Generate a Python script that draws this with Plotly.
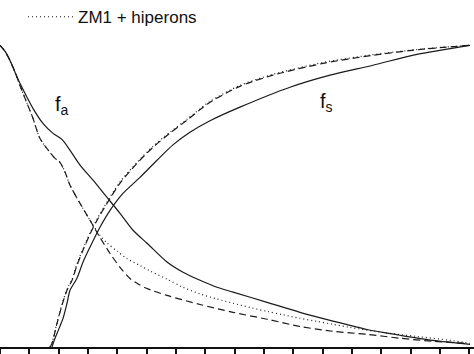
import plotly.graph_objects as go

# ---- data (x in axis units: 1 unit per major tick; y = fraction) ----
x_fa_solid = [0.0, 0.043, 0.085, 0.128, 0.170, 0.230, 0.281, 0.366, 0.452, 0.528, 0.597, 0.682, 0.793,
              0.912, 1.023, 1.134, 1.253, 1.423, 1.560, 1.705, 1.849, 1.986, 2.276, 2.557, 2.838, 3.128,
              3.409, 3.690, 4.006]
y_fa_solid = [1.0, 0.980, 0.950, 0.911, 0.874, 0.828, 0.791, 0.741, 0.708, 0.688, 0.652, 0.603, 0.553,
              0.496, 0.443, 0.387, 0.344, 0.282, 0.248, 0.221, 0.198, 0.182, 0.148, 0.115, 0.086, 0.058,
              0.039, 0.022, 0.009]

x_fa_dash = [0.0, 0.043, 0.085, 0.128, 0.170, 0.230, 0.281, 0.341, 0.426, 0.469, 0.511, 0.554, 0.597,
             0.682, 0.767, 0.852, 0.938, 1.023, 1.108, 1.168, 1.253, 1.423, 1.705, 1.986, 2.276, 2.557,
             2.838, 3.128, 3.409, 3.690, 3.980]
y_fa_dash = [1.0, 0.980, 0.950, 0.911, 0.867, 0.808, 0.758, 0.691, 0.645, 0.625, 0.612, 0.580, 0.536,
             0.476, 0.420, 0.363, 0.310, 0.264, 0.227, 0.211, 0.194, 0.171, 0.141, 0.115, 0.092, 0.068,
             0.052, 0.042, 0.029, 0.019, 0.012]

x_fa_dot = [0.0, 0.043, 0.085, 0.128, 0.170, 0.230, 0.281, 0.341, 0.426, 0.469, 0.511, 0.554, 0.597,
            0.682, 0.767, 0.852, 0.912, 0.997, 1.082, 1.193, 1.278, 1.423, 1.560, 1.705, 1.849, 1.986,
            2.131, 2.276, 2.412, 2.557, 2.702, 2.838, 2.983, 3.264, 3.554, 3.835, 4.006]
y_fa_dot = [1.0, 0.980, 0.950, 0.911, 0.867, 0.808, 0.758, 0.691, 0.645, 0.625, 0.612, 0.580, 0.536,
            0.476, 0.420, 0.370, 0.345, 0.318, 0.293, 0.270, 0.252, 0.225, 0.198, 0.176, 0.159, 0.145,
            0.131, 0.118, 0.107, 0.095, 0.085, 0.075, 0.065, 0.048, 0.035, 0.022, 0.012]

x_fs_solid = [0.443, 0.469, 0.486, 0.511, 0.537, 0.571, 0.597, 0.656, 0.707, 0.767, 0.852, 0.938,
              1.048, 1.193, 1.338, 1.474, 1.619, 1.790, 2.045, 2.472, 2.813, 3.179, 3.554, 4.006]
y_fs_solid = [0.0, 0.029, 0.045, 0.069, 0.095, 0.145, 0.188, 0.228, 0.281, 0.331, 0.397, 0.453,
              0.509, 0.562, 0.619, 0.670, 0.712, 0.750, 0.795, 0.861, 0.901, 0.934, 0.970, 1.0]

x_fs_dash = [0.426, 0.443, 0.486, 0.528, 0.571, 0.614, 0.656, 0.707, 0.767, 0.827, 0.912, 1.023,
             1.168, 1.304, 1.449, 1.594, 1.790, 2.045, 2.327, 2.753, 3.179, 3.605, 4.006]
y_fs_dash = [0.0, 0.012, 0.078, 0.138, 0.188, 0.221, 0.271, 0.321, 0.374, 0.420, 0.476, 0.543,
             0.609, 0.662, 0.709, 0.752, 0.811, 0.864, 0.901, 0.940, 0.967, 0.987, 1.0]

x_fs_dot = x_fs_dash
y_fs_dot = [0.0, 0.014, 0.081, 0.141, 0.191, 0.225, 0.275, 0.325, 0.378, 0.424, 0.480, 0.547,
            0.612, 0.665, 0.712, 0.755, 0.814, 0.867, 0.904, 0.943, 0.969, 0.988, 1.0]

names = ["ZM1", "ZM1 + nucleons", "ZM1 + hiperons"]
dashes = ["solid", "7px,4px", "1px,3px"]

fig = go.Figure()
series = [(x_fa_solid, y_fa_solid, x_fs_solid, y_fs_solid),
          (x_fa_dash, y_fa_dash, x_fs_dash, y_fs_dash),
          (x_fa_dot, y_fa_dot, x_fs_dot, y_fs_dot)]
for i, (xa, ya, xs, ys) in enumerate(series):
    style = dict(color="#1a1a1a", width=1.2, dash=dashes[i], shape="spline", smoothing=0.8)
    fig.add_trace(go.Scatter(x=xa, y=ya, mode="lines", name=names[i], legendgroup=names[i], line=style))
    fig.add_trace(go.Scatter(x=xs, y=ys, mode="lines", name=names[i], legendgroup=names[i],
                             showlegend=False, line=style))

fig.add_annotation(x=0.53, y=0.80, text="f<sub>a</sub>", showarrow=False,
                   font=dict(size=20, color="#111", family="Liberation Sans, Arial"))
fig.add_annotation(x=2.78, y=0.81, text="f<sub>s</sub>", showarrow=False,
                   font=dict(size=20, color="#111", family="Liberation Sans, Arial"))

fig.update_layout(
    width=474, height=354,
    margin=dict(l=0, r=0, t=0, b=7, autoexpand=False),
    paper_bgcolor="white", plot_bgcolor="white",
    font=dict(family="Liberation Sans, Arial", color="#111"),
    showlegend=True,
    legend=dict(x=23 / 474, y=1 + 51 / 347, xanchor="left", yanchor="top",
                bgcolor="rgba(0,0,0,0)", font=dict(size=17), itemwidth=45,
                tracegroupgap=0),
)
fig.update_xaxes(range=[0, 474 / 117.33], showgrid=False, zeroline=False, showline=True,
                 linecolor="#111", linewidth=1.5, ticks="outside", ticklen=9, tickwidth=1.5,
                 tickcolor="#111", dtick=1, tick0=0, showticklabels=False,
                 minor=dict(ticks="outside", ticklen=5, dtick=0.25, tickwidth=1.5, tickcolor="#111"))
fig.update_yaxes(range=[0, 347 / 301.7], visible=False)

fig.write_html("out.html")
